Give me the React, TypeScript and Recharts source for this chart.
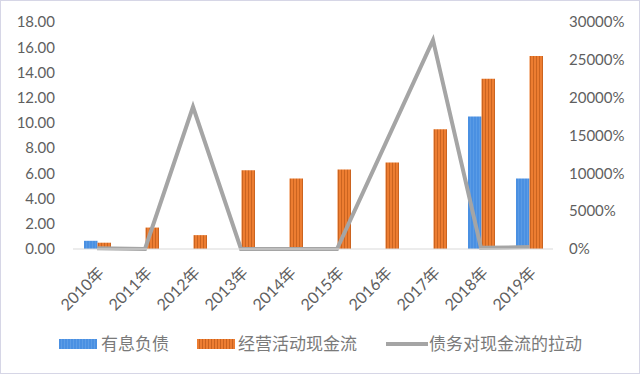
import React from 'react';
import { ComposedChart, Bar, Line, XAxis, YAxis, Legend } from 'recharts';

const categories = ['2010年', '2011年', '2012年', '2013年', '2014年', '2015年', '2016年', '2017年', '2018年', '2019年'];
const interestDebt = [0.65, 0, 0, 0, 0, 0, 0, 0, 10.5, 5.6];
const operatingCash = [0.5, 1.7, 1.1, 6.25, 5.6, 6.3, 6.85, 9.5, 13.5, 15.3];
const debtPull = [100, 0, 18800, 0, 0, 0, 13800, 27600, 150, 250];
const leftTicks = [0, 2, 4, 6, 8, 10, 12, 14, 16, 18];
const rightTicks = [0, 5000, 10000, 15000, 20000, 25000, 30000];
const seriesNames = ['有息负债', '经营活动现金流', '债务对现金流的拉动'];

const data = categories.map((c, i) => ({
  name: c,
  debt: interestDebt[i],
  cash: operatingCash[i],
  pull: debtPull[i],
}));

const BLUE = '#4A90E2';
const ORANGE = '#ED7D31';
const GRAY = '#A5A5A5';
const TEXT = '#5f5f5f';
const FONT = "Lato, 'Noto Sans CJK SC', sans-serif";

const LegendContent = () => (
  <div style={{ height: 40, position: 'relative', fontFamily: "'Noto Sans CJK SC', sans-serif", fontSize: 17, color: '#7a7a7a' }}>
    <div style={{ position: 'absolute', left: 59, top: 5, width: 38, height: 10, background: 'repeating-linear-gradient(90deg, #4A90E2 0px, #4A90E2 2px, #5D9DE6 2px, #5D9DE6 3px)' }} />
    <div style={{ position: 'absolute', left: 101, top: -3, lineHeight: '24px', whiteSpace: 'nowrap' }}>{seriesNames[0]}</div>
    <div style={{ position: 'absolute', left: 197, top: 5, width: 38, height: 10, background: 'repeating-linear-gradient(90deg, #ED7D31 0px, #ED7D31 2px, #C9621F 2px, #C9621F 3px)' }} />
    <div style={{ position: 'absolute', left: 238, top: -3, lineHeight: '24px', whiteSpace: 'nowrap' }}>{seriesNames[1]}</div>
    <div style={{ position: 'absolute', left: 386, top: 8, width: 42, height: 4, background: GRAY }} />
    <div style={{ position: 'absolute', left: 429, top: -3, lineHeight: '24px', whiteSpace: 'nowrap' }}>{seriesNames[2]}</div>
  </div>
);

export default function App() {
  return (
    <div style={{ position: 'absolute', left: 0, top: 0, width: 640, height: 374, background: '#fff', boxSizing: 'border-box', border: '1px solid #D6D6E6' }}>
      <div style={{ position: 'absolute', left: -1, top: -1 }}>
        <ComposedChart
          width={640}
          height={374}
          data={data}
          margin={{ top: 22, right: 0, left: 0, bottom: 0 }}
          barGap={0}
        >
          <defs>
            <pattern id="orangeStripe" patternUnits="userSpaceOnUse" width={3} height={10}>
              <rect x={0} y={0} width={3} height={10} fill={ORANGE} />
              <rect x={2} y={0} width={1} height={10} fill="#CB6420" />
            </pattern>
            <pattern id="blueStripe" patternUnits="userSpaceOnUse" width={3} height={10}>
              <rect x={0} y={0} width={3} height={10} fill={BLUE} />
              <rect x={2} y={0} width={1} height={10} fill="#5A9BE5" />
            </pattern>
          </defs>
          <XAxis
            dataKey="name"
            height={85}
            axisLine={{ stroke: '#D9D9D9', strokeWidth: 1 }}
            tickLine={false}
            tickSize={0}
            tickMargin={17}
            interval={0}
            tick={{ angle: -45, textAnchor: 'end', fill: TEXT, fontSize: 16, fontFamily: FONT }}
          />
          <YAxis
            yAxisId="left"
            orientation="left"
            width={73}
            domain={[0, 18]}
            ticks={leftTicks}
            axisLine={false}
            tickLine={false}
            tickSize={0}
            tickMargin={18}
            tickFormatter={(v: number) => v.toFixed(2)}
            tick={{ fill: TEXT, fontSize: 15, fontFamily: FONT }}
          />
          <YAxis
            yAxisId="right"
            orientation="right"
            width={87}
            domain={[0, 30000]}
            ticks={rightTicks}
            axisLine={false}
            tickLine={false}
            tickSize={0}
            tickMargin={16}
            tickFormatter={(v: number) => `${v}%`}
            tick={{ fill: TEXT, fontSize: 15, fontFamily: FONT, textAnchor: 'start' }}
          />
          <Legend verticalAlign="bottom" align="left" content={<LegendContent />} wrapperStyle={{ width: 640, left: 0 }} />
          <Bar yAxisId="left" dataKey="debt" name={seriesNames[0]} fill="url(#blueStripe)" barSize={13.5} isAnimationActive={false} />
          <Bar yAxisId="left" dataKey="cash" name={seriesNames[1]} fill="url(#orangeStripe)" barSize={13.5} isAnimationActive={false} />
          <Line yAxisId="right" type="linear" dataKey="pull" name={seriesNames[2]} stroke={GRAY} strokeWidth={4} dot={false} activeDot={false} isAnimationActive={false} />
        </ComposedChart>
      </div>
    </div>
  );
}
